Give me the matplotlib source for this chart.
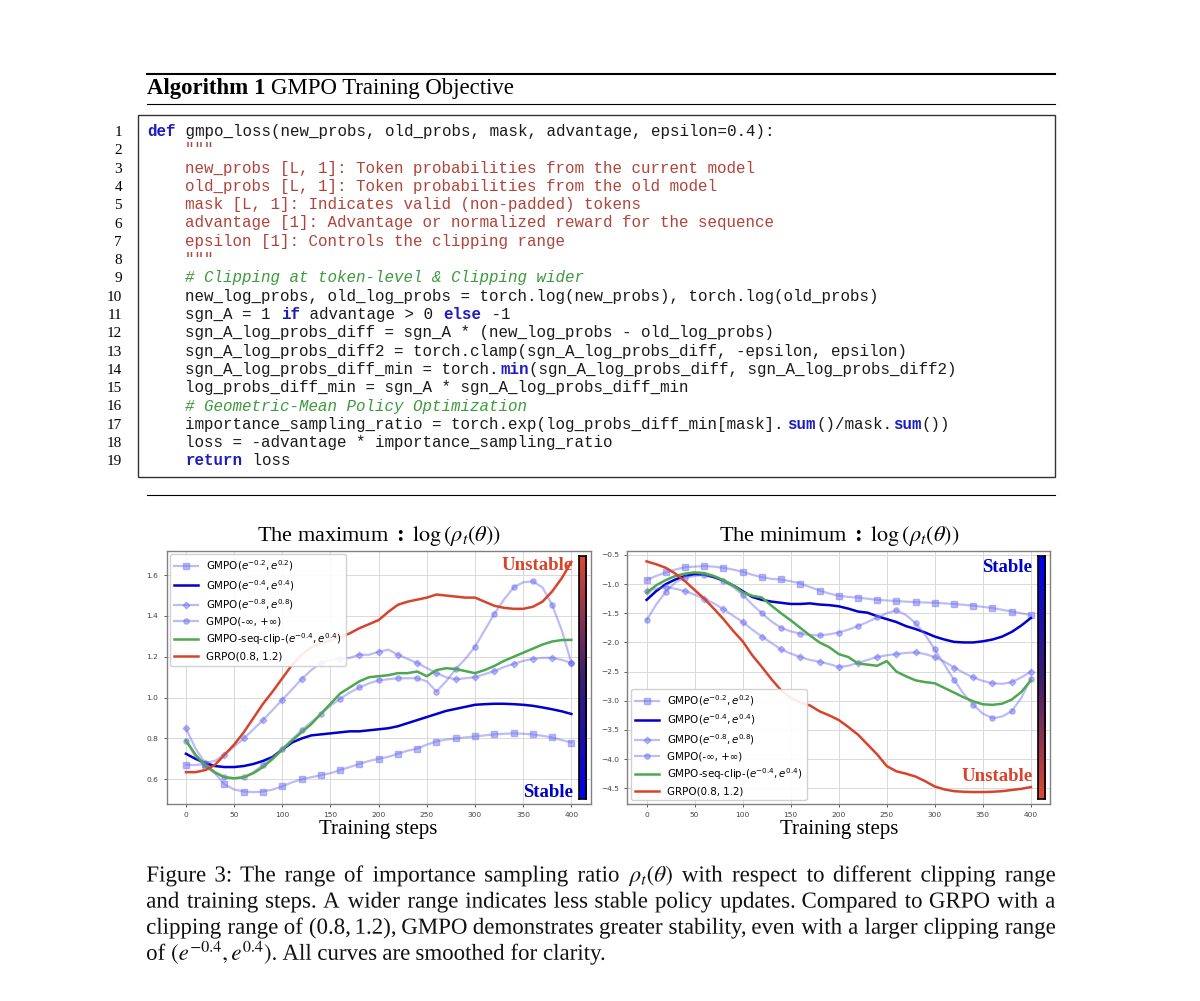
import re
import numpy as np
import matplotlib
matplotlib.use("Agg")
import matplotlib.pyplot as plt
import matplotlib.transforms as mtransforms
from matplotlib.colors import LinearSegmentedColormap
from matplotlib.font_manager import FontProperties
from matplotlib.patches import Rectangle, PathPatch
from matplotlib.textpath import TextPath

plt.rcParams["mathtext.fontset"] = "stix"
SERIF = ["Liberation Serif", "DejaVu Serif"]
MONO = ["Liberation Mono", "DejaVu Sans Mono"]

# ---- data (every 10 steps) ----
steps = np.arange(0, 401, 10)

labels = [r"GMPO($e^{-0.2}, e^{0.2}$)", r"GMPO($e^{-0.4}, e^{0.4}$)",
          r"GMPO($e^{-0.8}, e^{0.8}$)", "GMPO(-\u221e, +\u221e)",
          r"GMPO-seq-clip-($e^{-0.4}, e^{0.4}$)", "GRPO(0.8, 1.2)"]

max_g02 = [0.67, 0.67, 0.675, 0.63, 0.575, 0.55, 0.54, 0.537, 0.54, 0.55, 0.565,
           0.585, 0.60, 0.61, 0.62, 0.63, 0.645, 0.66, 0.675, 0.69, 0.70,
           0.71, 0.725, 0.74, 0.75, 0.77, 0.785, 0.795, 0.80, 0.805, 0.81,
           0.815, 0.82, 0.823, 0.825, 0.823, 0.82, 0.813, 0.805, 0.792, 0.78]
max_g04 = [0.725, 0.70, 0.68, 0.665, 0.66, 0.66, 0.665, 0.675, 0.69, 0.71, 0.745,
           0.78, 0.80, 0.815, 0.82, 0.825, 0.83, 0.835, 0.835, 0.84, 0.845,
           0.85, 0.86, 0.875, 0.89, 0.905, 0.92, 0.935, 0.945, 0.955, 0.965,
           0.968, 0.97, 0.97, 0.968, 0.965, 0.96, 0.952, 0.943, 0.933, 0.92]
max_g08 = [0.85, 0.75, 0.68, 0.69, 0.72, 0.76, 0.80, 0.845, 0.89, 0.94, 0.99,
           1.04, 1.09, 1.135, 1.17, 1.185, 1.19, 1.195, 1.21, 1.21, 1.225,
           1.235, 1.21, 1.19, 1.17, 1.145, 1.12, 1.10, 1.09, 1.095, 1.10,
           1.115, 1.13, 1.15, 1.165, 1.18, 1.19, 1.195, 1.195, 1.185, 1.17]
max_ginf = [0.79, 0.71, 0.66, 0.63, 0.61, 0.605, 0.61, 0.635, 0.67, 0.71, 0.75,
            0.795, 0.84, 0.88, 0.92, 0.96, 0.995, 1.025, 1.05, 1.07, 1.085,
            1.09, 1.095, 1.095, 1.095, 1.08, 1.03, 1.08, 1.14, 1.19, 1.25,
            1.33, 1.41, 1.48, 1.54, 1.565, 1.57, 1.54, 1.455, 1.33, 1.17]
max_seq = [0.79, 0.72, 0.67, 0.635, 0.61, 0.605, 0.61, 0.63, 0.66, 0.70, 0.745,
           0.79, 0.83, 0.87, 0.92, 0.97, 1.02, 1.05, 1.08, 1.10, 1.105,
           1.11, 1.12, 1.12, 1.128, 1.105, 1.135, 1.144, 1.14, 1.13, 1.12,
           1.135, 1.155, 1.18, 1.20, 1.22, 1.24, 1.26, 1.275, 1.282, 1.283]
max_grpo = [0.635, 0.635, 0.645, 0.67, 0.72, 0.77, 0.83, 0.90, 0.97, 1.03, 1.095,
            1.16, 1.21, 1.245, 1.265, 1.28, 1.295, 1.315, 1.34, 1.36, 1.38,
            1.42, 1.455, 1.47, 1.48, 1.49, 1.505, 1.50, 1.495, 1.49, 1.49,
            1.47, 1.45, 1.44, 1.435, 1.435, 1.445, 1.47, 1.52, 1.585, 1.665]

min_g02 = [-0.93, -0.86, -0.80, -0.75, -0.71, -0.70, -0.69, -0.70, -0.72, -0.75, -0.79,
           -0.84, -0.88, -0.91, -0.92, -0.95, -0.99, -1.05, -1.11, -1.16, -1.20,
           -1.22, -1.23, -1.25, -1.27, -1.28, -1.29, -1.30, -1.31, -1.315, -1.32,
           -1.33, -1.34, -1.355, -1.37, -1.39, -1.41, -1.44, -1.47, -1.50, -1.53]
min_g04 = [-1.27, -1.12, -1.0, -0.92, -0.86, -0.83, -0.84, -0.88, -0.94, -1.02, -1.12,
           -1.22, -1.27, -1.30, -1.32, -1.34, -1.34, -1.33, -1.35, -1.36, -1.38,
           -1.42, -1.47, -1.49, -1.55, -1.60, -1.65, -1.72, -1.77, -1.83, -1.90,
           -1.95, -1.99, -2.0, -2.0, -1.98, -1.95, -1.90, -1.82, -1.71, -1.58]
min_g08 = [-1.11, -1.08, -1.05, -1.08, -1.12, -1.18, -1.25, -1.33, -1.43, -1.54, -1.65,
           -1.78, -1.90, -2.01, -2.12, -2.19, -2.25, -2.30, -2.33, -2.37, -2.42,
           -2.40, -2.35, -2.30, -2.25, -2.22, -2.20, -2.18, -2.17, -2.20, -2.25,
           -2.33, -2.43, -2.52, -2.60, -2.66, -2.70, -2.71, -2.68, -2.60, -2.50]
min_ginf = [-1.62, -1.35, -1.13, -0.97, -0.89, -0.86, -0.84, -0.87, -0.95, -1.05, -1.18,
            -1.35, -1.50, -1.64, -1.75, -1.81, -1.85, -1.87, -1.88, -1.86, -1.83,
            -1.78, -1.72, -1.65, -1.57, -1.50, -1.45, -1.53, -1.67, -1.87, -2.12,
            -2.38, -2.64, -2.88, -3.07, -3.22, -3.30, -3.27, -3.18, -2.95, -2.62]
min_seq = [-1.15, -1.02, -0.93, -0.86, -0.82, -0.80, -0.81, -0.86, -0.93, -1.02, -1.14,
           -1.20, -1.23, -1.37, -1.50, -1.62, -1.75, -1.88, -2.00, -2.08, -2.20,
           -2.25, -2.36, -2.38, -2.40, -2.32, -2.50, -2.58, -2.65, -2.68, -2.70,
           -2.78, -2.86, -2.94, -3.01, -3.06, -3.07, -3.05, -2.98, -2.85, -2.65]
min_grpo = [-0.61, -0.66, -0.72, -0.82, -0.95, -1.10, -1.25, -1.42, -1.60, -1.80, -1.98,
            -2.22, -2.42, -2.63, -2.82, -2.95, -3.03, -3.08, -3.18, -3.25, -3.33,
            -3.45, -3.58, -3.75, -3.92, -4.12, -4.21, -4.25, -4.30, -4.38, -4.47,
            -4.52, -4.55, -4.56, -4.565, -4.565, -4.56, -4.55, -4.53, -4.51, -4.48]

code_lines = [
    "def gmpo_loss(new_probs, old_probs, mask, advantage, epsilon=0.4):",
    '    """',
    "    new_probs [L, 1]: Token probabilities from the current model",
    "    old_probs [L, 1]: Token probabilities from the old model",
    "    mask [L, 1]: Indicates valid (non-padded) tokens",
    "    advantage [1]: Advantage or normalized reward for the sequence",
    "    epsilon [1]: Controls the clipping range",
    '    """',
    "    # Clipping at token-level & Clipping wider",
    "    new_log_probs, old_log_probs = torch.log(new_probs), torch.log(old_probs)",
    "    sgn_A = 1 if advantage > 0 else -1",
    "    sgn_A_log_probs_diff = sgn_A * (new_log_probs - old_log_probs)",
    "    sgn_A_log_probs_diff2 = torch.clamp(sgn_A_log_probs_diff, -epsilon, epsilon)",
    "    sgn_A_log_probs_diff_min = torch.min(sgn_A_log_probs_diff, sgn_A_log_probs_diff2)",
    "    log_probs_diff_min = sgn_A * sgn_A_log_probs_diff_min",
    "    # Geometric-Mean Policy Optimization",
    "    importance_sampling_ratio = torch.exp(log_probs_diff_min[mask].sum()/mask.sum())",
    "    loss = -advantage * importance_sampling_ratio",
    "    return loss",
]

caption_lines = [
    r"Figure 3:  The range of importance sampling ratio $\rho_t(\theta)$ with respect to different clipping range",
    "and training steps. A wider range indicates less stable policy updates. Compared to GRPO with a",
    "clipping range of (0.8, 1.2), GMPO demonstrates greater stability, even with a larger clipping range",
    r"of $(e^{-0.4}, e^{0.4})$. All curves are smoothed for clarity.",
]

# ---- figure ----
fig = plt.figure(figsize=(12, 10.01), dpi=100)
bg = fig.add_axes([0, 0, 1, 1], zorder=-5)
bg.set_xlim(0, 1200)
bg.set_ylim(1001, 0)
bg.axis("off")
renderer = fig.canvas.get_renderer()

# algorithm block
bg.plot([147, 1055], [74, 74], color="black", lw=1.5)
bg.plot([147, 1055], [104, 104], color="black", lw=0.8)
bg.plot([147, 1055], [495, 495], color="black", lw=0.8)
t = bg.text(147, 94.3, "Algorithm 1", family=SERIF, weight="bold", size=16.4, va="baseline")
w = t.get_window_extent(renderer).width
bg.text(147 + w + 5.7, 94.3, "GMPO Training Objective", family=SERIF, size=16.4, va="baseline")
bg.add_patch(Rectangle((138, 115), 917, 362, fill=False, ec="#333333", lw=1.0))

KW = "#1c1cc0"
DOC = "#b0443a"
COM = "#3d9a3d"
TXT = "#1a1a1a"
charw = 9.56
fs_code = charw / 0.6 * 72 / 100
for i, line in enumerate(code_lines):
    yb = 136 + i * 18.3
    bg.text(122, yb, str(i + 1), family=SERIF, size=11, ha="right", va="baseline")
    stripped = line.strip()
    if 1 <= i <= 7:
        bg.text(147, yb, line, family=MONO, size=fs_code, color=DOC, va="baseline")
        continue
    if stripped.startswith("#"):
        bg.text(147, yb, line, family=MONO, size=fs_code, color=COM, style="italic", va="baseline")
        continue
    pos = 0
    for m in re.finditer(r"\b(def|if|else|return|min|sum)\b", line):
        if m.start() > pos:
            bg.text(147 + pos * charw, yb, line[pos:m.start()], family=MONO, size=fs_code,
                    color=TXT, va="baseline")
        bg.text(147 + m.start() * charw, yb, m.group(), family=MONO, size=fs_code,
                color=KW, weight="bold", va="baseline")
        pos = m.end()
    if pos < len(line):
        bg.text(147 + pos * charw, yb, line[pos:], family=MONO, size=fs_code, color=TXT, va="baseline")

# caption, justified between x=147 and x=1055 (glyph paths keep a common baseline)
cap_px = 16.5 * 100 / 72
cap_prop = FontProperties(family=SERIF)
for i, line in enumerate(caption_lines):
    yb = 881.5 + i * 26.1
    words = re.findall(r"(?:\$[^$]*\$|\S)+", line)
    paths = [TextPath((0, 0), wd, size=cap_px, prop=cap_prop) for wd in words]
    exts = [p.get_extents() for p in paths]
    widths = [e.x1 - e.x0 for e in exts]
    if i < len(caption_lines) - 1:
        gap = (1055 - 147 - sum(widths)) / (len(words) - 1)
    else:
        gap = cap_px * 0.3
    x = 147
    for p, e, wd in zip(paths, exts, widths):
        tr = mtransforms.Affine2D().translate(-e.x0, 0).scale(1, -1).translate(x, yb) + bg.transData
        bg.add_patch(PathPatch(p, transform=tr, fc="#111111", lw=0))
        x += wd + gap

# ---- the two panels ----
cmap = LinearSegmentedColormap.from_list("stab", ["#0000f0", "#3a1f6e", "#dc4a32"])
light = (0.42, 0.42, 0.95)
legprop = FontProperties(family="DejaVu Sans", size=7.4, math_fontfamily="dejavusans")


def panel(ax, series, title, ylim, yticks, legloc, top_word, bottom_word, red_top):
    g02, g04, g08, ginf, seq, grpo = series
    ax.plot(steps, g02, color=light, alpha=0.45, lw=1.6, marker="s", ms=3.8, markevery=2, label=labels[0])
    ax.plot(steps, g04, color="#0000cc", lw=1.8, label=labels[1])
    ax.plot(steps, g08, color=light, alpha=0.45, lw=1.6, marker="D", ms=3.4, markevery=2, label=labels[2])
    ax.plot(steps, ginf, color=light, alpha=0.45, lw=1.6, marker="o", ms=3.8, markevery=2, label=labels[3])
    ax.plot(steps, seq, color="#4fa84f", lw=1.8, label=labels[4])
    ax.plot(steps, grpo, color="#d8432c", lw=1.8, label=labels[5])
    ax.set_xlim(-20, 420)
    ax.set_ylim(*ylim)
    ax.set_xticks(np.arange(0, 401, 50))
    ax.set_yticks(yticks)
    ax.grid(color="#d9d9d9", lw=0.7)
    ax.tick_params(labelsize=5.4, colors="#444444", length=2.5, width=0.6)
    for sp in ax.spines.values():
        sp.set_color("#808080")
        sp.set_linewidth(1.0)
    ax.set_title(title, family=SERIF, size=16, pad=7)
    ax.set_xlabel("Training steps", family=SERIF, size=15, labelpad=1)
    leg = ax.legend(loc=legloc, prop=legprop, handlelength=2.3, borderaxespad=0.35,
                    labelspacing=0.45, framealpha=0.9)
    leg.get_frame().set_edgecolor("#cccccc")

    cax = ax.inset_axes([0.972, 0.02, 0.017, 0.958])
    cax.imshow(np.linspace(0, 1, 256)[:, None], aspect="auto", cmap=cmap,
               origin="lower" if red_top else "upper")
    cax.set_xticks([])
    cax.set_yticks([])
    for sp in cax.spines.values():
        sp.set_color("black")
        sp.set_linewidth(1.2)

    tcol, bcol = ("#d8432c", "#0000cc") if red_top else ("#0000cc", "#d8432c")
    ax.text(0.958, 0.935 if not red_top else 0.94, top_word, transform=ax.transAxes, ha="right",
            va="center", family=SERIF, weight="bold", size=13.5, color=tcol)
    ax.text(0.958, 0.045 if red_top else 0.11, bottom_word, transform=ax.transAxes, ha="right",
            va="center", family=SERIF, weight="bold", size=13.5, color=bcol)


ax1 = fig.add_axes([0.1389, 0.1968, 0.3533, 0.2531])
panel(ax1, [max_g02, max_g04, max_g08, max_ginf, max_seq, max_grpo],
      r"The maximum $\mathbf{:}$ $\log\left(\rho_t(\theta)\right)$",
      (0.479, 1.72), [0.6, 0.8, 1.0, 1.2, 1.4, 1.6], "upper left",
      "Unstable", "Stable", True)

ax2 = fig.add_axes([0.5228, 0.1968, 0.3523, 0.2531])
panel(ax2, [min_g02, min_g04, min_g08, min_ginf, min_seq, min_grpo],
      r"The minimum $\mathbf{:}$ $\log\left(\rho_t(\theta)\right)$",
      (-4.77, -0.426), [-0.5, -1.0, -1.5, -2.0, -2.5, -3.0, -3.5, -4.0, -4.5], "lower left",
      "Stable", "Unstable", False)

fig.savefig("out.png", dpi=100)
